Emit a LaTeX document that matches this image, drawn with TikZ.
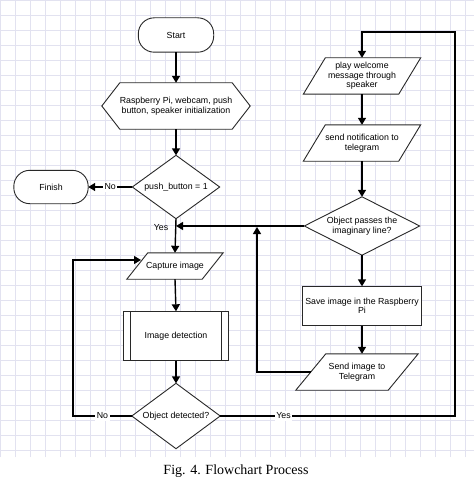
\documentclass[tikz,border=0pt]{standalone}
\usepackage{fontspec}
\setmainfont{Liberation Sans}
\newfontfamily\capfont{Liberation Serif}
\usetikzlibrary{arrows.meta,calc}
\pgfdeclarelayer{gridl}
\pgfdeclarelayer{bg}
\pgfsetlayers{gridl,bg,main}
\definecolor{gridc}{RGB}{226,226,240}
\definecolor{edgec}{RGB}{40,40,40}
\begin{document}
\begin{tikzpicture}[x=1pt,y=-1pt,
  txt/.style={font=\fontsize{8.8}{9.5}\selectfont, align=center, inner sep=0pt},
  shp/.style={draw=edgec, line width=0.9pt, fill=white},
  arr/.style={line width=1.4pt, -{Triangle[length=7pt,width=8pt]}},
  lbl/.style={font=\fontsize{8.8}{9}\selectfont, fill=white, inner sep=1.5pt}]
\useasboundingbox (0,0) rectangle (474,484);
\begin{pgfonlayer}{gridl}
\fill[white] (0,0) rectangle (474,484);
\draw[gridc, line width=0.5pt, step=15pt] (0,0) grid (474,457);
\end{pgfonlayer}

% nodes (text)
\node[txt, minimum width=75, minimum height=34] (start) at (176,35) {Start};
\node[txt, minimum width=148, minimum height=46] (init) at (176,106) {Raspberry Pi, webcam, push\\button, speaker initialization};
\node[txt, minimum width=87, minimum height=63] (push) at (176,187) {push\_button = 1};
\node[txt, minimum width=74, minimum height=33] (finish) at (51,187) {Finish};
\node[txt, minimum width=96, minimum height=26] (capture) at (175,266) {Capture image};
\node[txt, minimum width=104, minimum height=49] (detect) at (176,336) {Image detection};
\node[txt, minimum width=88, minimum height=65] (objdet) at (176,416) {Object detected?};
\node[txt, minimum width=117, minimum height=36] (play) at (362,76) {play welcome\\message through\\speaker};
\node[txt, minimum width=117, minimum height=36] (notify) at (362,143) {send notification to\\telegram};
\node[txt, minimum width=115, minimum height=58] (passes) at (362,226) {Object passes the\\imaginary line?};
\node[txt, minimum width=119, minimum height=39] (save) at (362,306) {Save image in the Raspberry\\Pi};
\node[txt, minimum width=122, minimum height=36] (sendimg) at (357,372) {Send image to\\Telegram};

% shapes
\begin{pgfonlayer}{bg}
\draw[shp, rounded corners=16pt] (start.north west) rectangle (start.south east);
\draw[shp, rounded corners=16pt] (finish.north west) rectangle (finish.south east);
\draw[shp] (init.west) -- ([xshift=18pt]init.north west) -- ([xshift=-18pt]init.north east) -- (init.east) -- ([xshift=-18pt]init.south east) -- ([xshift=18pt]init.south west) -- cycle;
\foreach \d in {push,objdet,passes}
  \draw[shp] (\d.north) -- (\d.east) -- (\d.south) -- (\d.west) -- cycle;
\draw[shp] ([xshift=21pt]capture.north west) -- (capture.north east) -- ([xshift=-21pt]capture.south east) -- (capture.south west) -- cycle;
\draw[shp] ([xshift=22pt]play.north west) -- (play.north east) -- ([xshift=-22pt]play.south east) -- (play.south west) -- cycle;
\draw[shp] ([xshift=22pt]notify.north west) -- (notify.north east) -- ([xshift=-22pt]notify.south east) -- (notify.south west) -- cycle;
\draw[shp] ([xshift=30pt]sendimg.north west) -- (sendimg.north east) -- ([xshift=-30pt]sendimg.south east) -- (sendimg.south west) -- cycle;
\draw[shp] (save.north west) rectangle (save.south east);
\draw[shp] (detect.north west) rectangle (detect.south east);
\draw[edgec, line width=0.9pt] ([xshift=7pt]detect.north west) -- ([xshift=7pt]detect.south west);
\draw[edgec, line width=0.9pt] ([xshift=-7pt]detect.north east) -- ([xshift=-7pt]detect.south east);
\end{pgfonlayer}

% helper coordinates
\coordinate (capin) at (141,260);
\coordinate (noturn) at (73,416);
\coordinate (noup) at (73,260);
\coordinate (yesturn) at (455,416);
\coordinate (yesup) at (455,32);
\coordinate (yestop) at (362,32);
\coordinate (joinpt) at (176,226);
\coordinate (sendout) at (311,372);
\coordinate (loopc) at (257,372);
\coordinate (looptip) at (257,227);

% connectors
\draw[arr] (start.south) -- (init.north);
\draw[arr] (init.south) -- (push.north);
\draw[arr] (push.west) -- node[lbl] {No} (finish.east);
\draw[arr] (push.south) -- (capture.north);
\node[lbl, fill=none] (yes1) at (161,228) {Yes};
\draw[arr] (capture.south) -- (detect.north);
\draw[arr] (detect.south) -- (objdet.north);
\draw[arr] (objdet.west) -- node[lbl] {No} (noturn) -- (noup) -- (capin);
\draw[arr] (objdet.east) -- node[lbl, pos=0.27] {Yes} (yesturn) -- (yesup) -- (yestop) -- (play.north);
\draw[arr] (play.south) -- (notify.north);
\draw[arr] (notify.south) -- (passes.north);
\draw[arr] (passes.south) -- (save.north);
\draw[arr] (save.south) -- (save.south |- sendimg.north);
\draw[arr] (passes.west) -- (joinpt);
\draw[arr] (sendout) -- (loopc) -- (looptip);

\node[font=\capfont\fontsize{14}{16}\selectfont, inner sep=0pt] (cap) at (236,471) {Fig. 4. Flowchart Process};
\end{tikzpicture}
\end{document}
